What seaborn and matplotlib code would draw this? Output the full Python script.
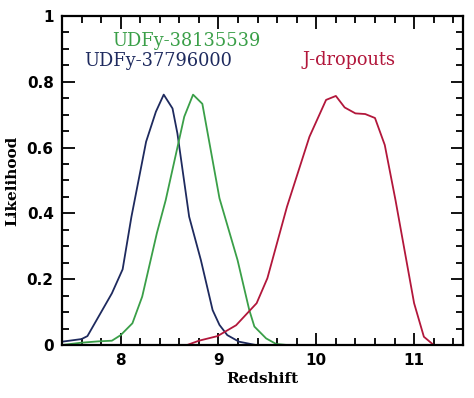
import matplotlib
matplotlib.use("Agg")
import matplotlib.pyplot as plt
from matplotlib.ticker import MultipleLocator, FuncFormatter
import seaborn as sns
import pandas as pd

# --- data ---
blue_z = [7.40, 7.60, 7.66, 7.91, 8.02, 8.11, 8.26, 8.36, 8.44, 8.53, 8.58, 8.70,
          8.82, 8.94, 9.01, 9.09, 9.21, 9.38, 9.60]
blue_l = [0.010, 0.018, 0.027, 0.157, 0.230, 0.390, 0.618, 0.709, 0.761, 0.719, 0.643, 0.390,
          0.258, 0.106, 0.061, 0.030, 0.010, 0.0, 0.0]

green_z = [7.40, 7.60, 7.77, 7.91, 8.00, 8.12, 8.22, 8.37, 8.46, 8.65, 8.74, 8.835,
           9.01, 9.195, 9.315, 9.367, 9.487, 9.59, 9.70, 10.62]
green_l = [0.0, 0.007, 0.011, 0.013, 0.030, 0.066, 0.147, 0.340, 0.440, 0.694, 0.761, 0.733,
           0.446, 0.258, 0.106, 0.056, 0.020, 0.003, 0.0, 0.0]

red_z = [7.40, 8.68, 8.80, 8.99, 9.18, 9.39, 9.50, 9.70, 9.93, 10.10, 10.20, 10.29,
         10.40, 10.50, 10.60, 10.70, 10.81, 11.00, 11.10, 11.20, 11.50]
red_l = [0.0, 0.0, 0.013, 0.027, 0.060, 0.127, 0.203, 0.420, 0.633, 0.745, 0.757, 0.722,
         0.704, 0.702, 0.690, 0.608, 0.440, 0.127, 0.025, 0.0, 0.0]

names = ["UDFy-37796000", "UDFy-38135539", "J-dropouts"]
colors = {"UDFy-37796000": "#1e2a5e", "UDFy-38135539": "#3a9f48", "J-dropouts": "#b2173b"}

rows = []
for n, zs, ls in zip(names, [blue_z, green_z, red_z], [blue_l, green_l, red_l]):
    for z, l in zip(zs, ls):
        rows.append({"Redshift": z, "Likelihood": l, "source": n})
df = pd.DataFrame(rows)

sns.set_style("ticks")
plt.rcParams["font.family"] = ["DejaVu Sans"]
plt.rcParams["text.color"] = "black"
plt.rcParams["axes.labelcolor"] = "black"
plt.rcParams["xtick.color"] = "black"
plt.rcParams["ytick.color"] = "black"

fig = plt.figure(figsize=(4.74, 3.98), dpi=100)
ax = fig.add_axes([0.1308, 0.1332, 0.9768 - 0.1308, 0.9598 - 0.1332])

sns.lineplot(data=df, x="Redshift", y="Likelihood", hue="source", hue_order=names,
             palette=colors, estimator=None, sort=False, legend=False, lw=1.3, ax=ax)

ax.set_xlim(7.4, 11.5)
ax.set_ylim(0, 1)
ax.xaxis.set_major_locator(MultipleLocator(1))
ax.xaxis.set_minor_locator(MultipleLocator(0.2))
ax.yaxis.set_major_locator(MultipleLocator(0.2))
ax.yaxis.set_minor_locator(MultipleLocator(0.05))


def yfmt(v, p):
    if abs(v) < 1e-6:
        return "0"
    if abs(v - 1) < 1e-6:
        return "1"
    return f"{v:.1f}"


ax.yaxis.set_major_formatter(FuncFormatter(yfmt))
ax.tick_params(which="both", direction="in", top=True, right=True, width=1.3,
               color="black", labelcolor="black")
ax.tick_params(which="major", length=9, labelsize=11, pad=6)
ax.tick_params(which="minor", length=5)
for lab in ax.get_xticklabels() + ax.get_yticklabels():
    lab.set_fontweight("bold")
for s in ax.spines.values():
    s.set_linewidth(1.6)
    s.set_color("black")

ax.set_xlabel("Redshift", family="DejaVu Serif", fontweight="bold", fontsize=11,
              labelpad=3, color="black")
ax.set_ylabel("Likelihood", family="DejaVu Serif", fontweight="bold", fontsize=11,
              labelpad=5, color="black")

ax.text(8.67, 0.925, "UDFy-38135539", color=colors["UDFy-38135539"], family="DejaVu Serif",
        fontsize=12.8, ha="center", va="center")
ax.text(8.38, 0.862, "UDFy-37796000", color=colors["UDFy-37796000"], family="DejaVu Serif",
        fontsize=12.8, ha="center", va="center")
ax.text(10.33, 0.865, "J-dropouts", color=colors["J-dropouts"], family="DejaVu Serif",
        fontsize=12.8, ha="center", va="center")

fig.savefig("out.png", dpi=100)
